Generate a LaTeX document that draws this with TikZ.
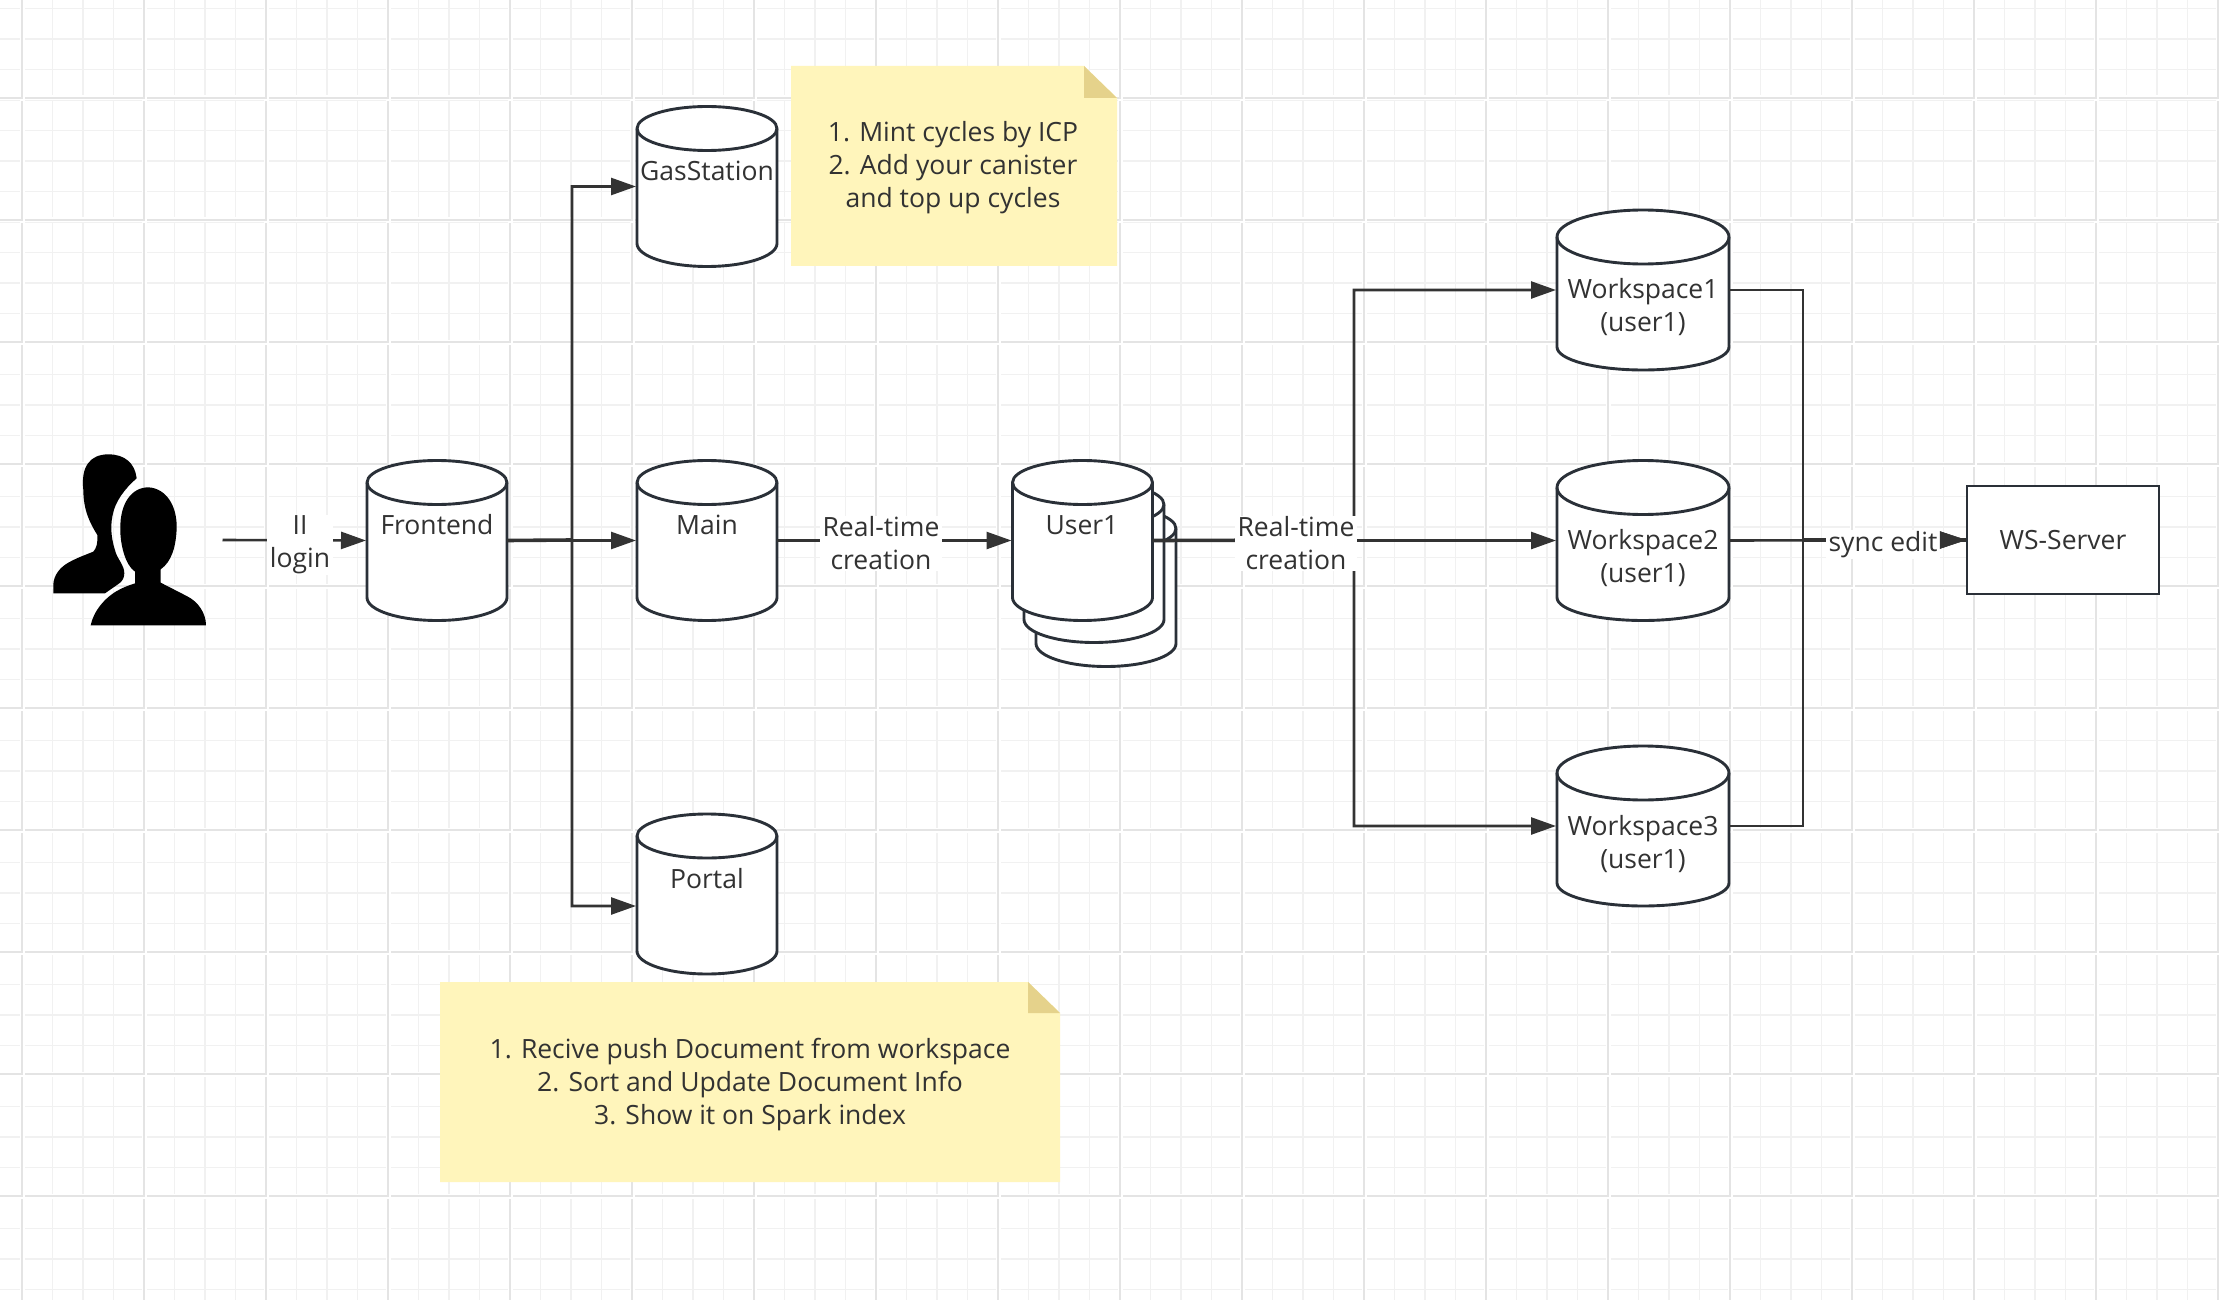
\documentclass[tikz,border=0pt]{standalone}
\usepackage{fontspec}
\setmainfont{Open Sans}
\usetikzlibrary{arrows.meta,calc}
\definecolor{gridmajor}{HTML}{E4E4E4}
\definecolor{gridminor}{HTML}{F1F1F1}
\definecolor{inkline}{HTML}{333333}
\definecolor{inkshape}{HTML}{2A3038}
\definecolor{inktext}{HTML}{323232}
\definecolor{notefill}{HTML}{FFF5BB}
\definecolor{notefold}{HTML}{E5D28B}
\tikzset{
  x=1pt,y=-1pt,
  cylbox/.style={rectangle,inner sep=0pt,outer sep=0pt,minimum height=160pt},
  cylline/.style={draw=inkshape,line width=2.9pt,fill=white,line join=round},
  cyltext/.style={text=inktext,align=center,inner sep=0pt,font=\fontsize{26.5}{33}\selectfont},
  flow/.style={draw=inkline,line width=2.6pt,line join=miter},
  flowarrow/.style={flow,-{Triangle[length=25pt,width=17pt]},shorten >=1pt},
  edgetext/.style={fill=white,text=inktext,align=center,inner xsep=2.5pt,inner ysep=1pt,font=\fontsize{26.5}{33}\selectfont},
  notebox/.style={rectangle,inner sep=0pt,outer sep=0pt},
  notetext/.style={text=inktext,align=center,inner sep=0pt,font=\fontsize{26.5}{33}\selectfont},
  serverbox/.style={rectangle,draw=inkshape,line width=2.9pt,fill=white,text=inktext,inner sep=0pt,minimum width=192pt,minimum height=108pt,font=\fontsize{26.5}{33}\selectfont},
  personshape/.style={fill=black,draw=none}
}
\newcommand{\cylnode}[5]{%
  \node[cylbox,minimum width=#4pt] (#1) at (#2,#3) {};
  \draw[cylline] ([yshift=-#5pt]#1.north west) -- ([yshift=23pt]#1.south west)
     arc[start angle=180,end angle=360,x radius=#4pt/2,y radius=23pt]
     -- ([yshift=-#5pt]#1.north east)
     arc[start angle=0,end angle=180,x radius=#4pt/2,y radius=#5pt] -- cycle;
  \draw[cylline,fill=none] ([yshift=-#5pt]#1.north west)
     arc[start angle=180,end angle=360,x radius=#4pt/2,y radius=#5pt];
}
\newcommand{\notepaper}[4]{%
  \node[notebox,minimum width=#4pt,minimum height=200pt] (#1) at (#2,#3) {};
}
\begin{document}
\begin{tikzpicture}
\useasboundingbox (0,0) rectangle (2220,1300);
\fill[white] (0,0) rectangle (2220,1300);
% grid
\foreach \i in {0,...,71} {
  \pgfmathsetmacro{\gx}{22+30.5*\i}
  \draw[gridminor,line width=1.4pt] (\gx,0) -- (\gx,1300);
}
\foreach \i in {0,...,42} {
  \pgfmathsetmacro{\gy}{8.5+30.5*\i}
  \draw[gridminor,line width=1.4pt] (0,\gy) -- (2220,\gy);
}
\foreach \k in {0,...,18} {
  \pgfmathsetmacro{\gx}{22+122*\k}
  \draw[white,line width=5pt] (\gx,0) -- (\gx,1300);
}
\foreach \k in {0,...,9} {
  \pgfmathsetmacro{\gy}{98+122*\k}
  \draw[white,line width=5pt] (0,\gy) -- (2220,\gy);
}
\foreach \k in {0,...,18} {
  \pgfmathsetmacro{\gx}{22+122*\k}
  \draw[gridmajor,line width=1.5pt] (\gx,0) -- (\gx,1300);
}
\foreach \k in {0,...,9} {
  \pgfmathsetmacro{\gy}{98+122*\k}
  \draw[gridmajor,line width=1.5pt] (0,\gy) -- (2220,\gy);
}
\foreach \k in {0,...,18} {
  \foreach \m in {0,...,9} {
    \pgfmathsetmacro{\gx}{22+122*\k}
    \pgfmathsetmacro{\gy}{98+122*\m}
    \fill[white] (\gx+0.8,\gy-0.8) rectangle (\gx+2.6,\gy+0.8);
    \fill[white] (\gx-0.8,\gy+0.8) rectangle (\gx+0.8,\gy+2.6);
  }
}
% sticky notes
\notepaper{noteA}{954}{166}{326}
\fill[notefill] (noteA.north west) -- (1084,66) -- (1117,98) -- (noteA.south east) -- (noteA.south west) -- cycle;
\fill[notefold] (1084,66) -- (1117,98) -- (1084,98) -- cycle;
\node[notetext] (noteAtext) at (953,168) {1. Mint cycles by ICP\\2. Add your canister\\and top up cycles};
\notepaper{noteB}{750}{1082}{620}
\fill[notefill] (noteB.north west) -- (1028,982) -- (1060,1013) -- (noteB.south east) -- (noteB.south west) -- cycle;
\fill[notefold] (1028,982) -- (1060,1013) -- (1028,1013) -- cycle;
\node[notetext] (noteBtext) at (750,1085) {1. Recive push Document from workspace\\2. Sort and Update Document Info\\3. Show it on Spark index};
% people icon
\begin{scope}[shift={(40,440)},x=0.33333pt,y=-0.33333pt]
\fill[personshape] (40,460) -- (40,432) .. controls (42,405) and (60,382) .. (85,368)
  .. controls (110,354) and (135,345) .. (160,335)
  .. controls (170,325) and (174,305) .. (172,285)
  .. controls (150,250) and (130,210) .. (130,150)
  .. controls (122,80) and (150,43) .. (205,43)
  .. controls (255,43) and (285,70) .. (290,115)
  .. controls (255,145) and (225,185) .. (218,225)
  .. controls (208,270) and (218,310) .. (228,340)
  .. controls (238,365) and (252,375) .. (253,400)
  .. controls (253,415) and (245,425) .. (238,430)
  -- (195,460) -- cycle;
\fill[personshape] (152,556) .. controls (160,515) and (195,470) .. (240,448)
  .. controls (255,440) and (270,435) .. (285,430)
  -- (285,395) .. controls (255,375) and (240,310) .. (241,265)
  .. controls (240,190) and (275,142) .. (325,142)
  .. controls (380,145) and (412,200) .. (410,265)
  .. controls (408,320) and (395,365) .. (362,388)
  -- (362,428) -- (440,468) .. controls (475,485) and (498,520) .. (498,556) -- cycle;
\end{scope}
\coordinate (usersout) at (222.5,540);
% cylinders
\cylnode{frontend}{437}{540.5}{140}{22}
\cylnode{gas}{707}{186.5}{140}{22}
\cylnode{main}{707}{540.5}{140}{22}
\cylnode{portal}{707}{894}{140}{22}
\cylnode{userC}{1106}{586.5}{140}{22}
\cylnode{userB}{1094}{562.5}{140}{22}
\cylnode{userA}{1082.5}{540.5}{140}{22}
\cylnode{wsA}{1643}{290}{172}{27}
\cylnode{wsB}{1643}{540.5}{172}{27}
\cylnode{wsC}{1643}{826}{172}{27}
\node[serverbox] (server) at (2063,540) {\raisebox{-1pt}{WS-Server}};
% routing points
\coordinate (frontendin) at (frontend.west);
\coordinate (trunkL) at (572,540);
\coordinate (trunkM) at (1354,540);
\coordinate (trunkR) at (1803,540);
\coordinate (portalin) at ([yshift=-12pt]portal.west);
% connectors
\draw[flowarrow] (usersout) -- (frontendin);
\draw[flowarrow] (frontend.east) -- (main.west);
\draw[flowarrow] ([yshift=.5pt]frontend.east) -- ([yshift=.5pt]trunkL) |- (gas.west);
\draw[flowarrow] ([yshift=-.5pt]frontend.east) -- ([yshift=-.5pt]trunkL) |- (portalin);
\draw[flowarrow] (main.east) -- (userA.west);
\draw[flowarrow] (userA.east) -- (wsB.west);
\draw[flowarrow] ([yshift=.5pt]userA.east) -- ([yshift=.5pt]trunkM) |- (wsA.west);
\draw[flowarrow] ([yshift=-.5pt]userA.east) -- ([yshift=-.5pt]trunkM) |- (wsC.west);
\draw[flowarrow] (wsB.east) -- (server.west);
\draw[flow] (wsA.east) -| ([yshift=.5pt]trunkR) -- ([yshift=.5pt]server.west);
\draw[flow] (wsC.east) -| ([yshift=-.5pt]trunkR) -- ([yshift=-.5pt]server.west);
% cylinder labels
\node[cyltext] (frontendlabel) at (437,525) {Frontend};
\node[cyltext] (gaslabel) at (707,171) {GasStation};
\node[cyltext] (mainlabel) at (707,525) {Main};
\node[cyltext] (portallabel) at (707,879) {Portal};
\node[cyltext] (userlabel) at (1082,525) {User1};
\node[cyltext] (wsAlabel) at (1643,307.5) {Workspace1\\(user1)};
\node[cyltext] (wsBlabel) at (1643,558.5) {Workspace2\\(user1)};
\node[cyltext] (wsClabel) at (1643,844.5) {Workspace3\\(user1)};
% connector labels
\node[edgetext] (loginlabel) at (300,545) {II\\login};
\node[edgetext] (createA) at (881,543.5) {Real-time\\creation};
\node[edgetext] (createB) at (1296,543.5) {Real-time\\creation};
\node[edgetext] (synclabel) at (1883,544.5) {sync edit};
\draw[draw=inkline,fill=inkline] (1940,531.5) -- (1966,540) -- (1940,548.5) -- cycle;
\end{tikzpicture}
\end{document}
